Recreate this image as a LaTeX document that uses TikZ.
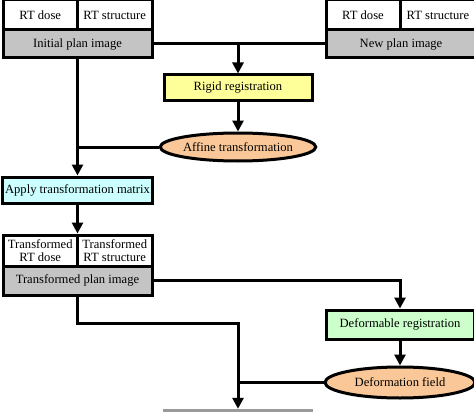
\documentclass[tikz,border=0pt]{standalone}
\usepackage{fontspec}
\setmainfont{Liberation Serif}
\usetikzlibrary{arrows.meta,shapes.geometric}
\definecolor{boxgray}{HTML}{C4C4C4}
\definecolor{rigidfill}{HTML}{FFFF99}
\definecolor{applyfill}{HTML}{CCFFFF}
\definecolor{deffill}{HTML}{CCFFCC}
\definecolor{ellfill}{HTML}{FAC898}
\definecolor{finalgray}{HTML}{9A9A9A}
\tikzset{
  base/.style={draw=black, line width=3pt, inner sep=0pt, align=center,
    font=\fontsize{12.6}{13.5}\selectfont},
  cell/.style={base, rectangle, fill=white},
  graycell/.style={base, rectangle, fill=boxgray},
  proc/.style={base, rectangle},
  oval/.style={base, ellipse, fill=ellfill},
  conn/.style={line width=3pt, line join=miter},
  arr/.style={conn, -{Triangle[length=11pt,width=11pt]}},
}
\begin{document}
\begin{tikzpicture}[x=1pt,y=-1pt]
\useasboundingbox (0,0) rectangle (474,412);
\clip (0,0) rectangle (474,412);
% Initial plan group
\node[cell, minimum width=74.5pt, minimum height=30pt] (rtdoseA) at (40.25,15) {RT dose};
\node[cell, minimum width=74.5pt, minimum height=30pt] (rtstructA) at (114.75,15) {RT structure};
\node[graycell, minimum width=149pt, minimum height=28pt] (init) at (77.5,44) {Initial plan image};
% New plan group
\node[cell, minimum width=74pt, minimum height=30pt] (rtdoseB) at (363,15) {RT dose};
\node[cell, minimum width=76pt, minimum height=30pt] (rtstructB) at (438,15) {RT structure};
\node[graycell, minimum width=150pt, minimum height=28pt] (newimg) at (401,44) {New plan image};
% Rigid registration
\node[proc, fill=rigidfill, minimum width=148pt, minimum height=25pt] (rigid) at (238,87.5) {Rigid registration};
\node[oval, minimum width=152pt, minimum height=28pt] (affine) at (238,147) {Affine transformation};
% Apply
\node[proc, fill=applyfill, minimum width=150pt, minimum height=26pt] (apply) at (77.5,190) {Apply transformation matrix};
% Transformed group
\node[cell, minimum width=74.5pt, minimum height=31pt] (tdose) at (40.25,250.5) {Transformed\\RT dose};
\node[cell, minimum width=74.5pt, minimum height=31pt] (tstruct) at (114.75,250.5) {Transformed\\RT structure};
\node[graycell, minimum width=149pt, minimum height=29pt] (timg) at (77.5,280.5) {Transformed plan image};
% Deformable
\node[proc, fill=deffill, minimum width=148pt, minimum height=29pt] (deform) at (400,324.5) {Deformable registration};
\node[oval, minimum width=150pt, minimum height=31pt] (defield) at (400,382.5) {Deformation field};
% final (cropped)
\node[rectangle, fill=finalgray, inner sep=0pt, minimum width=150pt, minimum height=12pt] (final) at (238,415) {};
\coordinate (merge) at (238,323);
% connectors
\draw[conn] (init.east) -- (newimg.west);
\draw[arr] (rigid.north |- init.east) -- (rigid.north);
\draw[arr] (rigid.south) -- (affine.north);
\draw[arr] (init.south) -- (apply.north);
\draw[conn] (affine.west) -- (init.south |- affine.west);
\draw[arr] (apply.south) -- (apply.south |- tdose.north);
\draw[arr] (timg.east) -| (deform.north);
\draw[arr] (deform.south) -- (defield.north);
\draw[arr] (timg.south) |- (merge) -- (final.north);
\draw[conn] (defield.west) -- (merge |- defield.west);
\end{tikzpicture}
\end{document}
